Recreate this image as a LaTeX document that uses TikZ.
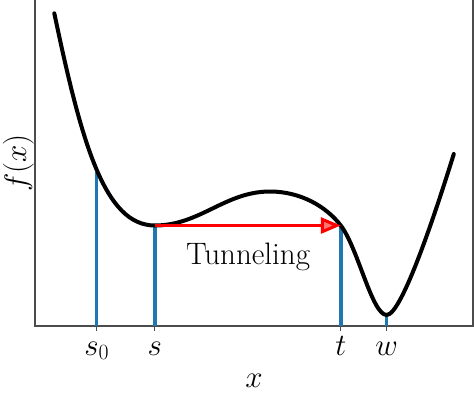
\documentclass[tikz,border=0pt]{standalone}
\usepackage{fix-cm}
\usetikzlibrary{arrows.meta}
\definecolor{tabblue}{HTML}{1F77B4}

\begin{document}
\begin{tikzpicture}[x=1pt, y=-1pt,
  spine/.style={draw=black!70, line width=1.3pt},
  tickmark/.style={draw=black!70, line width=1pt},
  curve/.style={line width=4pt, line join=round, line cap=round},
  level/.style={draw=tabblue, line width=3.4pt},
  tunnel/.style={red, line width=3pt, -{Triangle[length=20pt, width=16pt, fill=red!55]}},
  lbl/.style={font=\fontsize{31}{36}\selectfont, inner sep=0pt}
]
\useasboundingbox (0,0) rectangle (474,394);

% frame of the axes
\draw[spine] (35,-2) -- (35,326) -- (473,326) -- (473,-2);

% points where the levels meet the curve, and their feet on the axis
\coordinate (s0top) at (96.7,172);
\coordinate (stop)  at (154.8,225.5);
\coordinate (ttop)  at (340.8,225.5);
\coordinate (wtop)  at (386.7,315);
\coordinate (hill)  at (270,191.5);
\foreach \p/\x in {s0/96.7, s/154.8, t/340.8, w/386.7} {
  \coordinate (\p foot) at (\x,326);
  \draw[tickmark] (\p foot) -- ++(0,4.5);
}

\draw[level] (s0foot) -- (s0top);
\draw[level] (sfoot) -- (stop);
\draw[level] (tfoot) -- (ttop);
\draw[level] (wfoot) -- (wtop);

% the landscape
\draw[curve] (54.3,13.3) .. controls (82,145) and (105,225.5) .. (stop)
  .. controls (200,225.5) and (225,191.5) .. (hill)
  .. controls (300,191.5) and (325.8,206) .. (ttop)
  .. controls (358,248) and (372,315) .. (wtop)
  .. controls (402,315) and (437,208) .. (453.8,154);

\draw[tunnel] (stop) -- (ttop);
\node[lbl, anchor=base] (tun) at (248,264) {Tunneling};

% tick labels and axis labels
\node[lbl, anchor=base] (s0lab) at (96.7,355) {$s_0$};
\node[lbl, anchor=base] (slab)  at (154.8,355) {$s$};
\node[lbl, anchor=base] (tlab)  at (340.8,355) {$t$};
\node[lbl, anchor=base] (wlab)  at (386.7,355) {$w$};
\node[lbl, anchor=base] (xlab)  at (254,387) {$x$};
\node[lbl, anchor=base, rotate=90] (ylab) at (26,163) {$f(x)$};
\end{tikzpicture}
\end{document}
